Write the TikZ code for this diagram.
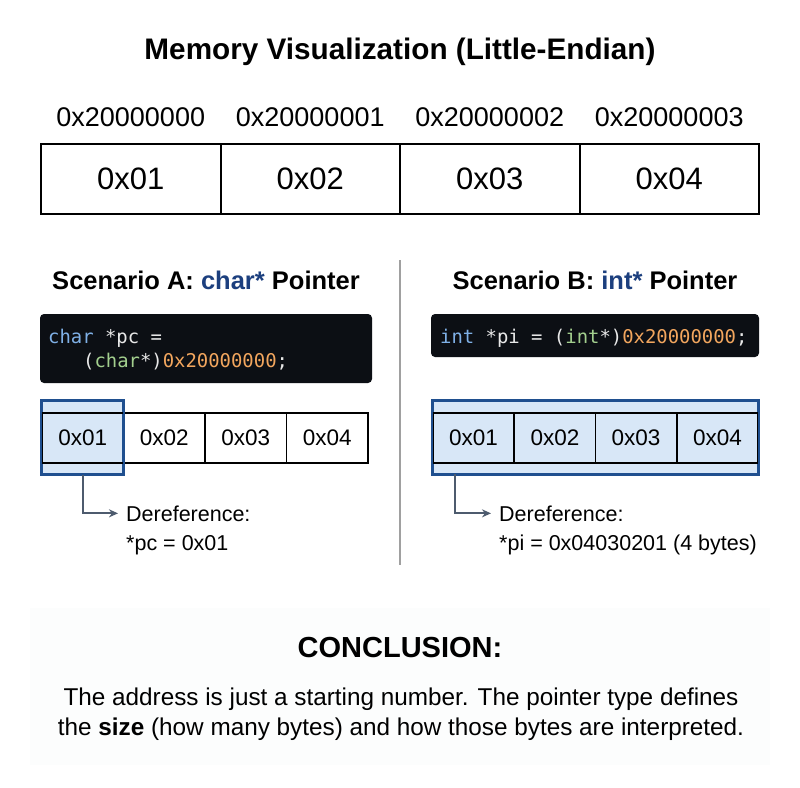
\documentclass[tikz,border=0pt]{standalone}
\usepackage{fontspec}
\setmainfont{Liberation Sans}
\setmonofont{DejaVu Sans Mono}
\usetikzlibrary{arrows.meta}
\definecolor{hlfill}{HTML}{D8E7F7}
\definecolor{hlborder}{HTML}{1F4F8F}
\definecolor{titleblue}{HTML}{1C3F7E}
\definecolor{arrowgray}{HTML}{4D5B6E}
\definecolor{codebg}{HTML}{0C0F14}
\definecolor{kwblue}{HTML}{7FB0E6}
\definecolor{kwgreen}{HTML}{A3CF8E}
\definecolor{numorange}{HTML}{F2A65E}
\definecolor{codewhite}{HTML}{E8E8E8}
\definecolor{sepgray}{HTML}{A0A0A0}
\definecolor{concbg}{HTML}{FCFDFD}
\begin{document}
\begin{tikzpicture}[x=1pt,y=-1pt,
  bigcell/.style={draw=black,line width=2pt,minimum width=179.5pt,minimum height=70pt,inner sep=0pt,font=\fontsize{31}{31}\selectfont},
  smallcell/.style={draw=black,line width=1.8pt,minimum width=81.5pt,minimum height=50pt,inner sep=0pt,font=\fontsize{22.5}{22.5}\selectfont},
  addr/.style={inner sep=0pt,anchor=base,font=\fontsize{27}{27}\selectfont},
  hlbox/.style={draw=hlborder,fill=hlfill,line width=2pt,inner sep=0pt},
  codebox/.style={fill=codebg,rounded corners=4pt},
  codetxt/.style={inner sep=0pt,anchor=base west,text=codewhite,font=\ttfamily\fontsize{18.9}{18.9}\selectfont},
  scen/.style={inner sep=0pt,anchor=base,font=\bfseries\fontsize{25.5}{25.5}\selectfont},
  deref/.style={inner sep=0pt,anchor=base west,font=\fontsize{21.5}{21.5}\selectfont},
  ptr/.style={draw=arrowgray,line width=2pt,-{Stealth[length=9pt,width=8pt]},shorten >=8pt}
]
\useasboundingbox (0,0) rectangle (800,787);
\fill[white] (0,0) rectangle (800,787);

% title
\node[inner sep=0pt,anchor=base,font=\bfseries\fontsize{29.7}{29.7}\selectfont] (title) at (400,59) {Memory Visualization (Little-Endian)};

% addresses
\node[addr] (ad0) at (130.75,126) {0x20000000};
\node[addr] (ad1) at (310.25,126) {0x20000001};
\node[addr] (ad2) at (489.75,126) {0x20000002};
\node[addr] (ad3) at (669.25,126) {0x20000003};

% top memory row
\node[bigcell] (m0) at (130.75,179) {0x01};
\node[bigcell] (m1) at (310.25,179) {0x02};
\node[bigcell] (m2) at (489.75,179) {0x03};
\node[bigcell] (m3) at (669.25,179) {0x04};

% separator
\draw[sepgray,line width=1.6pt] (400,260) -- (400,565);

% scenario titles
\node[scen] (scA) at (206,289) {Scenario A: \textcolor{titleblue}{char*} Pointer};
\node[scen] (scB) at (595,289) {Scenario B: \textcolor{titleblue}{int*} Pointer};

% code A
\fill[codebox] (40,314) rectangle (372,383);
\node[codetxt] (codeA1) at (48,343) {\textcolor{kwblue}{char} *pc =};
\node[codetxt] (codeA2) at (83,367) {(\textcolor{kwgreen}{char}*)\textcolor{numorange}{0x20000000};};

% code B
\fill[codebox] (431,314) rectangle (759,357);
\node[codetxt] (codeB) at (440,343) {\textcolor{kwblue}{int} *pi = (\textcolor{kwgreen}{int}*)\textcolor{numorange}{0x20000000};};

% scenario A memory
\node[hlbox,minimum width=81pt,minimum height=73pt] (hlA) at (82.5,437.5) {};
\node[smallcell] (a0) at (82.75,438) {0x01};
\node[smallcell] (a1) at (164.25,438) {0x02};
\node[smallcell] (a2) at (245.75,438) {0x03};
\node[smallcell] (a3) at (327.25,438) {0x04};
\draw[hlborder,line width=2pt] (hlA.north west) rectangle (hlA.south east);

% scenario B memory
\node[hlbox,minimum width=325pt,minimum height=73pt] (hlB) at (595.5,437.5) {};
\node[smallcell,minimum width=81.25pt] (b0) at (473.6,438) {0x01};
\node[smallcell,minimum width=81.25pt] (b1) at (554.9,438) {0x02};
\node[smallcell,minimum width=81.25pt] (b2) at (636.1,438) {0x03};
\node[smallcell,minimum width=81.25pt] (b3) at (717.4,438) {0x04};
\draw[hlborder,line width=2pt] (hlB.north west) rectangle (hlB.south east);

% dereference A
\node[deref] (dA1) at (126,521) {Dereference:};
\node[deref] (dA2) at (126,550) {*pc = 0x01};
\draw[ptr] (hlA.south) |- (dA1.west);

% dereference B
\node[deref] (dB1) at (499,521) {Dereference:};
\node[deref] (dB2) at (499,550) {*pi = 0x04030201 (4 bytes)};
\coordinate (pB) at (455,474);
\draw[ptr] (pB) |- (dB1.west);

% conclusion
\fill[concbg] (30,608) rectangle (770,765);
\node[inner sep=0pt,anchor=base,font=\bfseries\fontsize{29}{29}\selectfont] (conc) at (400,657) {CONCLUSION:};
\node[inner sep=0pt,anchor=base,font=\fontsize{24.3}{24.3}\selectfont] (body1) at (401,705) {The address is just a starting number. The pointer type defines};
\node[inner sep=0pt,anchor=base,font=\fontsize{24.3}{24.3}\selectfont] (body2) at (401,735) {the \textbf{size} (how many bytes) and how those bytes are interpreted.};
\end{tikzpicture}
\end{document}
